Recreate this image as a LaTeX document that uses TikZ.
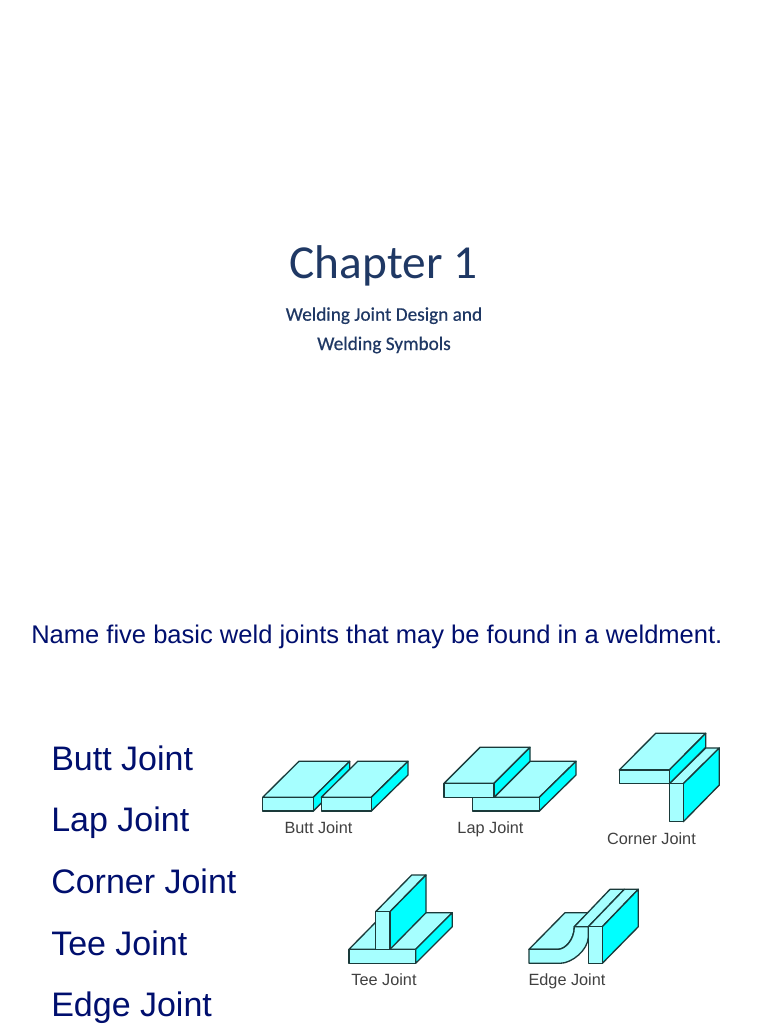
\documentclass[tikz,border=0pt]{standalone}
\usepackage{fontspec}
\setmainfont{Liberation Sans}
\newfontfamily\carl{Carlito}
\newfontfamily\carlsb[FakeBold=0.5]{Carlito}
\definecolor{plate}{HTML}{A6FFFF}
\definecolor{sidec}{HTML}{00FFFF}
\definecolor{edgec}{HTML}{1A3A3A}
\definecolor{navy}{HTML}{000F6E}
\definecolor{title}{HTML}{1F3864}
\tikzset{
 lightface/.style={fill=plate,draw=edgec,line width=1pt,line join=round},
 darkface/.style={fill=sidec,draw=edgec,line width=1pt,line join=round},
 joinlabel/.style={text=black!75,font=\fontsize{12.2pt}{14pt}\selectfont,anchor=base,inner sep=0pt},
 leftlabel/.style={text=navy,font=\fontsize{25.5pt}{28pt}\selectfont,anchor=base west,inner sep=0pt},
 subtitle/.style={text=title,inner sep=0pt,anchor=base,font=\carlsb\fontsize{14.45pt}{16pt}\selectfont},
}
\begin{document}
\begin{tikzpicture}[x=0.75pt,y=-0.75pt]
\useasboundingbox (0,0) rectangle (768,1024);
\fill[white] (0,0) rectangle (768,1024);
\node[text=title,inner sep=0pt,anchor=base,font=\carl\fontsize{35.5pt}{38pt}\selectfont] (chap) at (383.5,278) {Chapter 1};
\node[subtitle] (sub1) at (384,320.7) {Welding Joint Design and};
\node[subtitle] (sub2) at (384,350) {Welding Symbols};
\node[text=navy,inner sep=0pt,anchor=base west,font=\fontsize{19.15pt}{22pt}\selectfont] (q) at (31,643) {Name five basic weld joints that may be found in a weldment.};
\node[leftlabel] (l1) at (51,770.7) {Butt Joint};
\node[leftlabel] (l2) at (51,831.7) {Lap Joint};
\node[leftlabel] (l3) at (51,893.3) {Corner Joint};
\node[leftlabel] (l4) at (51,955) {Tee Joint};
\node[leftlabel] (l5) at (51,1016.7) {Edge Joint};
% Butt
\draw[lightface] (262.7,797.3)--(299,761.3)--(349.7,761.3)--(313.3,797.3)--cycle;
\draw[darkface] (313.3,797.3)--(349.7,761.3)--(349.7,775)--(313.3,811)--cycle;
\draw[lightface] (262.7,797.3) rectangle (313.3,811);
\draw[lightface] (321.3,797.3)--(357.7,761.3)--(408,761.3)--(371.3,797.3)--cycle;
\draw[darkface] (371.3,797.3)--(408,761.3)--(408,775)--(371.3,811)--cycle;
\draw[lightface] (321.3,797.3) rectangle (371.3,811);
\node[joinlabel] (b) at (318.5,833.3) {Butt Joint};
% Lap
\draw[lightface] (494,797.3)--(530,761.3)--(576,761.3)--(539.3,797.3)--cycle;
\draw[darkface] (539.3,797.3)--(576,761.3)--(576,775)--(539.3,811)--cycle;
\draw[lightface] (472.7,797.3) rectangle (539.3,811);
\draw[lightface] (444,783.3)--(480,747.3)--(530,747.3)--(494,783.3)--cycle;
\draw[darkface] (494,783.3)--(530,747.3)--(530,761.3)--(494,797.3)--cycle;
\draw[lightface] (444,783.3) rectangle (494,797.3);
\node[joinlabel] (c) at (490.5,833.3) {Lap Joint};
% Corner
\draw[lightface] (669.3,783.7)--(705.7,748)--(719.3,748)--(683.3,783.7)--cycle;
\draw[darkface] (683.3,783.7)--(719.3,748)--(719.3,785)--(683.3,821.7)--cycle;
\draw[lightface] (669.3,783.7) rectangle (683.3,821.7);
\draw[lightface] (619.3,770)--(655.7,733.3)--(705.7,733.3)--(669.3,770)--cycle;
\draw[darkface] (669.3,770)--(705.7,733.3)--(705.7,747.3)--(669.3,783.7)--cycle;
\draw[lightface] (619.3,770) rectangle (669.3,783.7);
\node[joinlabel] (d) at (651.5,844) {Corner Joint};
% Tee
\draw[lightface] (349,949.3)--(385,912.7)--(452.3,912.7)--(415.7,949.3)--cycle;
\draw[darkface] (415.7,949.3)--(452.3,912.7)--(452.3,926.7)--(415.7,963.3)--cycle;
\draw[lightface] (349,949.3) rectangle (415.7,963.3);
\draw[lightface] (375.7,911.7)--(411.7,875)--(426,875)--(390,911.7)--cycle;
\draw[darkface] (390,911.7)--(426,875)--(426,912.7)--(390,949.3)--cycle;
\draw[lightface] (375.7,911.7) rectangle (390,949.3);
\node[joinlabel] (e) at (384,985) {Tee Joint};
% Edge
\draw[lightface] (529,949.3)--(565,912.7)--(588.3,912.7)--(574.3,926.7) .. controls (574.3,940) and (565,949.3) .. (558,949.3)--cycle;
\draw[lightface] (574.3,926.7)--(610,889.3)--(624.3,889.3)--(588.3,926.7)--cycle;
\draw[lightface] (588.3,926.7)--(624.3,889.3)--(638.3,889.3)--(602.3,926.7)--cycle;
\draw[lightface] (529,949.3)--(558,949.3) .. controls (565,949.3) and (574.3,940) .. (574.3,926.7)--(588.3,926.7)--(588.3,937) .. controls (588,950) and (572,963.3) .. (560,963.3)--(529,963.3)--cycle;
\draw[darkface] (602.3,926.7)--(638.3,889.3)--(638.3,926.7)--(602.3,963.3)--cycle;
\draw[lightface] (588.3,926.7) rectangle (602.3,963.3);
\node[joinlabel] (f) at (567,985) {Edge Joint};
\end{tikzpicture}
\end{document}
